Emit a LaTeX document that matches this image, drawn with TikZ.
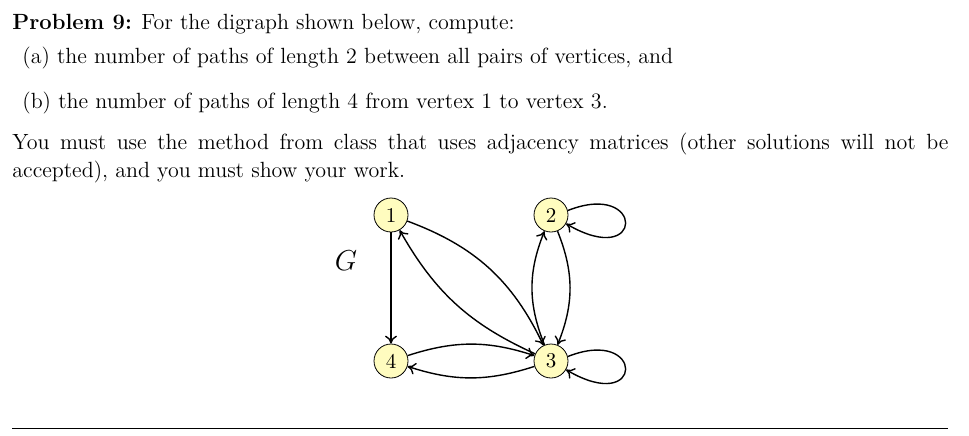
\documentclass[tikz,border=0pt]{standalone}
\usetikzlibrary{arrows.meta}
\begin{document}
\begin{tikzpicture}[x=0.5pt,y=-0.5pt,
  vtx/.style={circle,draw,fill=yellow!25,minimum size=17pt,inner sep=0pt,font=\fontsize{10.5}{13}\selectfont},
  txt/.style={anchor=base west,inner sep=0pt,font=\fontsize{11}{13.6}\selectfont},
  arc/.style={-{To[length=4pt,width=6pt]},line width=0.7pt}]
\useasboundingbox (0,0) rectangle (969,435);
\node[txt] (p) at (12,29) {\textbf{Problem 9:} For the digraph shown below, compute:};
\node[txt] (a) at (22,63) {(a) the number of paths of length 2 between all pairs of vertices, and};
\node[txt] (b) at (22,108) {(b) the number of paths of length 4 from vertex 1 to vertex 3.};
\node[txt,anchor=north west,text width=468pt,align=justify] (par) at (12,133) {You must use the method from class that uses adjacency matrices (other solutions will not be accepted), and you must show your work.};
\node[inner sep=0pt,font=\fontsize{14}{16}\selectfont] (G) at (346,261) {$G$};
\node[vtx] (v1) at (391,215) {1};
\node[vtx] (v2) at (551,215) {2};
\node[vtx] (v3) at (551,361) {3};
\node[vtx] (v4) at (391,361) {4};
\draw[arc] (v1) -- (v4);
\draw[arc] (v1) to[bend left=22] (v3);
\draw[arc] (v3) to[bend left=18] (v1);
\draw[arc] (v2) to[bend left=22] (v3);
\draw[arc] (v3) to[bend left=22] (v2);
\draw[arc] (v4) to[bend left=18] (v3);
\draw[arc] (v3) to[bend left=18] (v4);
\draw[arc] (v2.15) .. controls (645,180) and (645,270) .. (v2.-30);
\draw[arc] (v3.15) .. controls (645,326) and (645,416) .. (v3.-30);
\draw[line width=0.4pt] (12,428) coordinate (r1) -- (948,428) coordinate (r2);
\end{tikzpicture}
\end{document}
